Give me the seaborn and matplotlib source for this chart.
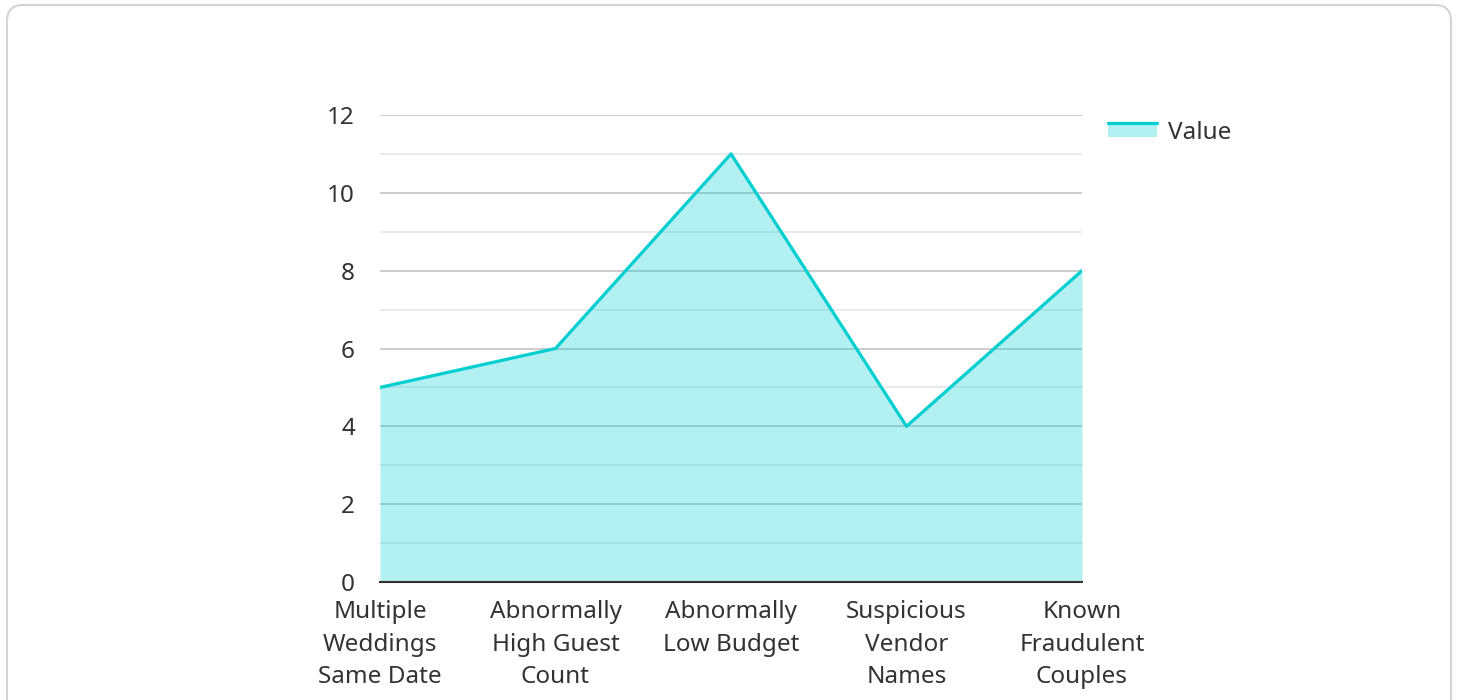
import numpy as np
import pandas as pd
import matplotlib
matplotlib.use("Agg")
import matplotlib.pyplot as plt
import seaborn as sns
from matplotlib.patches import FancyBboxPatch, Rectangle
from matplotlib.lines import Line2D
from matplotlib.legend_handler import HandlerBase
from matplotlib.transforms import IdentityTransform

categories = ["Multiple\nWeddings\nSame Date", "Abnormally\nHigh Guest\nCount",
              "Abnormally\nLow Budget", "Suspicious\nVendor\nNames",
              "Known\nFraudulent\nCouples"]
values = [5, 6, 11, 4, 8]
series_name = "Value"

LINE = "#00CED1"
TEXT = "#333333"
FS = 17.5

sns.set_theme(style="white")
plt.rcParams["font.family"] = ["Noto Sans", "DejaVu Sans"]

df = pd.DataFrame({"pos": np.arange(len(categories)), "value": values})

fig = plt.figure(figsize=(14.58, 7), dpi=100)
ax = fig.add_axes([380 / 1458, 1 - 582 / 700, (1082 - 380) / 1458, (582 - 115) / 700])

# grid: major every 2, minor in between
for y in range(0, 13):
    ax.axhline(y, color="#c8c8c8" if y % 2 == 0 else "#e8e8e8", lw=1.3, zorder=0)

ax.fill_between(df["pos"], df["value"], 0, color=LINE, alpha=0.3, lw=0, zorder=1)
sns.lineplot(data=df, x="pos", y="value", ax=ax, color=LINE, lw=2.3, zorder=3, legend=False)

ax.set_xlim(0, len(categories) - 1)
ax.set_ylim(0, 12)
ax.set_yticks(range(0, 13, 2))
ax.set_xticks(df["pos"])
ax.set_xticklabels(categories, linespacing=1.48)
ax.tick_params(axis="y", length=0, pad=18, labelsize=FS, labelcolor=TEXT)
ax.tick_params(axis="x", length=0, pad=13, labelsize=FS, labelcolor=TEXT)
ax.set_xlabel("")
ax.set_ylabel("")
for s in ["top", "right", "left"]:
    ax.spines[s].set_visible(False)
ax.spines["bottom"].set_color(TEXT)
ax.spines["bottom"].set_linewidth(1.5)
ax.spines["bottom"].set_zorder(4)


class AreaHandler(HandlerBase):
    def create_artists(self, legend, orig_handle, xdescent, ydescent,
                       width, height, fontsize, trans):
        r = Rectangle((-xdescent, -ydescent), width, height, fc=LINE,
                      alpha=0.3, lw=0, transform=trans)
        ln = Line2D([-xdescent, -xdescent + width], [-ydescent + height] * 2,
                    color=LINE, lw=2.3, transform=trans)
        return [r, ln]


proxy = Rectangle((0, 0), 1, 1)
fig.legend([proxy], [series_name], handler_map={Rectangle: AreaHandler()},
           loc="upper left", bbox_to_anchor=(0.745, 0.859), frameon=False,
           fontsize=FS, handlelength=2.0, handleheight=0.54, handletextpad=0.45,
           labelcolor=TEXT)

# rounded card border
card = FancyBboxPatch((7, -30), 1444, 725, boxstyle="round,pad=0,rounding_size=16",
                      fc="none", ec="#d4d4d4", lw=1.5, transform=IdentityTransform())
fig.patches.append(card)

fig.savefig("out.png", dpi=100)
